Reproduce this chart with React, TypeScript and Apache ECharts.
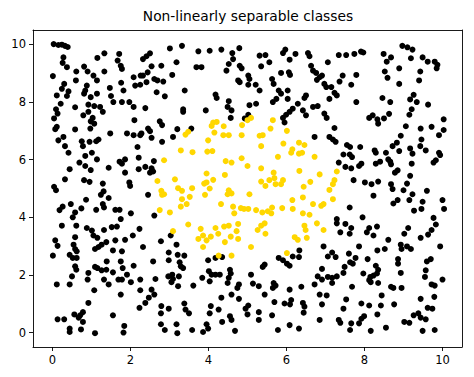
import React, { useEffect, useRef } from "react";
import * as echarts from "echarts";

const chartTitle = "Non-linearly separable classes";
const tickValues = [0, 2, 4, 6, 8, 10];

// Outer class (black), top band
const outerTop: number[][] = [
  [0.03,10.01],[0.15,9.98],[0.24,9.99],[0.32,9.95],[0.39,9.91],[0.28,9.55],[0.26,9.36],[0.37,9.21],[1.15,9.53],[1.33,9.69],[1.71,9.67],[1.67,9.44],[1.75,9.26],[1.78,9.15],[0.01,8.9],[0.61,9.06],[0.81,9.23],[0.9,9.06],[1.05,8.92],[1.33,9.06],[1.14,8.75],[0.6,8.75],[0.3,8.63],[2.08,8.86],[2.26,8.92],[2.12,8.57],[2.25,8.6],[0.88,8.57],[0.84,8.4],[0.81,8.29],[1.47,8.49],[1.76,8.67],[1.82,8.4],[0.24,8.46],[0.41,8.37],[0.11,8.23],[0.37,8.21],[0.98,8.17],[1.14,8.29],[1.5,8.21],[1.56,8.0],[1.78,8.0],[1.97,8.0],[2.08,7.83],[0.21,7.94],[0.58,7.82],[0.92,7.91],[1.07,7.86],[1.22,7.83],[1.29,7.66],[0.09,7.75],[0.13,7.6],[0.04,7.43],[0.79,7.54],[0.92,7.66],[1.03,7.45],[0.98,7.33],[1.07,7.25],[2.1,7.37],[0.11,7.14],[0.07,7.06],[0.58,7.05],[0.97,7.08],[1.48,6.91],[1.91,6.91],[2.08,6.85],[2.25,6.85],[0.28,6.79],
  [3.01,9.86],[3.32,9.95],[3.74,9.76],[4.03,9.78],[4.33,9.82],[4.79,9.87],[4.61,9.7],[2.5,9.69],[2.41,9.59],[2.32,9.49],[3.18,9.38],[2.79,9.26],[2.54,9.24],[4.63,9.49],[4.52,9.32],[4.8,9.26],[4.85,9.17],[4.46,9.09],[3.69,9.21],[3.82,9.21],[2.44,9.03],[3.07,8.94],[2.32,8.92],[2.61,8.8],[2.69,8.75],[2.84,8.71],[2.41,8.69],[4.76,8.75],[4.8,8.69],[5.02,8.92],[5.02,8.6],[2.67,8.34],[3.39,8.4],[2.88,8.2],[4.18,8.26],[4.21,8.14],[4.52,8.03],[4.49,7.83],[4.59,7.71],[4.57,7.45],[2.38,7.79],[3.35,7.75],[3.35,7.66],[3.93,7.71],[5.02,7.56],[4.93,7.43],[2.75,7.33],[2.81,7.2],[2.45,7.08],[2.5,6.99],[3.2,7.06],[3.56,7.08],[2.28,6.91],[3.09,6.79],
  [5.31,9.61],[5.46,9.63],[5.91,9.7],[5.97,9.82],[6.23,9.67],[6.55,9.7],[6.59,9.59],[6.08,9.47],[7.34,9.63],[7.53,9.63],[7.74,9.67],[5.56,9.38],[5.35,9.24],[7.06,9.38],[6.63,9.26],[5.05,8.8],[5.86,9.01],[6.06,9.03],[6.09,8.94],[6.68,9.09],[6.76,9.01],[6.85,8.86],[6.91,8.92],[6.78,8.77],[7.44,8.92],[7.36,8.71],[7.79,8.94],[7.66,8.6],[5.63,8.8],[5.67,8.63],[5.21,8.6],[5.31,8.4],[6.97,8.63],[7.02,8.52],[7.15,8.52],[7.23,8.32],[7.29,8.23],[7.1,8.11],[5.8,8.4],[5.86,8.29],[6.03,8.4],[6.03,8.11],[6.5,8.23],[6.46,8.14],[5.74,8.11],[5.65,8.0],[5.22,7.94],[5.05,7.89],[6.29,7.94],[6.16,7.77],[6.08,7.66],[5.99,7.56],[5.91,7.45],[6.42,7.71],[6.68,7.83],[6.8,7.86],[6.97,7.6],[7.03,7.45],[6.5,7.54],[7.79,8.0],[5.95,7.29],[7.23,7.1],[6.72,6.79],[7.1,6.79],
  [7.91,9.75],[7.97,9.72],[8.97,9.95],[9.1,9.9],[9.23,9.82],[8.49,9.67],[8.68,9.55],[8.57,9.4],[9.19,9.52],[9.49,9.55],[9.62,9.4],[9.8,9.4],[9.87,9.29],[9.85,9.17],[8.89,9.17],[8.52,9.06],[8.59,8.84],[9.43,9.06],[9.4,8.75],[8.89,8.63],[8.46,8.14],[8.66,8.0],[9.26,8.25],[9.17,8.09],[9.34,8.0],[9.63,7.91],[9.21,7.75],[9.15,7.56],[8.21,7.54],[8.12,7.45],[8.33,7.4],[8.35,7.25],[8.5,7.43],[8.63,7.59],[10.03,7.4],[9.06,7.16],[9.44,7.08],[9.72,7.14],[10.03,7.03],[9.91,6.85],[8.93,6.83]
];

// Outer class (black), middle band
const outerMiddle: number[][] = [
  [0.15,6.67],[0.75,6.64],[0.78,6.47],[0.95,6.62],[1.12,6.64],[1.18,6.7],[2.18,6.44],[0.32,6.47],[0.41,6.24],[0.84,6.13],[1.01,6.24],[1.14,6.01],[2.21,6.07],[0.69,5.9],[0.84,5.78],[0.98,5.64],[1.44,5.72],[1.72,5.93],[1.78,5.86],[1.86,6.01],[0.44,5.67],[1.86,5.55],[2.21,5.67],[0.32,5.32],[0.81,5.29],[0.95,5.23],[1.29,5.17],[1.97,5.21],[1.99,5.09],[0.04,5.06],[0.09,4.94],[1.31,4.9],[1.24,4.78],[1.44,4.67],[0.86,4.61],[0.47,4.46],[0.26,4.37],[0.18,4.25],[0.58,4.17],[0.52,4.0],[0.74,4.31],[1.12,4.26],[1.29,4.46],[1.32,4.34],[1.61,4.26],[1.72,4.26],[2.01,4.14],[1.75,3.94],[0.24,3.71],[0.61,3.71],[0.88,3.63],[1.01,3.54],[1.32,3.56],[1.52,3.66],[1.65,3.68],[1.05,3.37],[1.15,3.29],[0.58,3.31],[0.07,3.2],[1.38,3.14],[1.61,3.2],[1.86,3.22],[2.06,3.37],[2.23,3.6],
  [2.54,6.76],[2.81,6.62],[2.6,5.95],[2.38,5.75],[2.54,5.7],[2.58,5.59],[2.5,5.55],[2.45,4.78],[2.61,4.06],[3.03,3.37],[2.78,3.17],
  [7.19,6.7],[7.26,6.62],[7.55,6.51],[7.63,6.44],[7.46,6.18],[7.62,6.18],[7.68,6.09],[7.34,5.9],[7.51,5.75],[7.66,5.7],[7.72,5.29],[7.62,4.34],[7.29,3.94],[7.29,3.79],[7.51,3.77],[7.38,3.48],[7.66,3.63],[7.62,3.43],
  [7.89,6.44],[8.26,6.32],[8.29,6.24],[8.55,6.24],[8.72,6.47],[8.83,6.59],[8.89,6.3],[9.17,6.39],[9.23,6.21],[9.43,6.47],[9.46,6.7],[9.57,6.32],[9.91,6.24],[9.94,6.16],[7.92,5.86],[7.86,5.78],[8.29,5.86],[8.4,5.93],[8.61,6.01],[8.66,5.93],[8.68,5.84],[9.21,5.86],[9.83,5.98],[9.77,5.9],[8.78,5.55],[8.85,5.63],[9.17,5.44],[8.01,5.21],[8.18,5.15],[8.35,5.24],[8.68,5.15],[8.72,4.98],[9.09,5.17],[9.0,4.94],[9.6,4.92],[9.23,4.8],[8.23,4.75],[8.85,4.6],[8.74,4.48],[9.15,4.6],[9.49,4.54],[9.46,4.29],[9.27,4.23],[10.0,4.6],[10.04,4.29],[7.95,4.0],[8.12,3.63],[8.06,3.48],[8.32,3.68],[8.23,3.37],[8.61,3.22],[9.12,3.63],[9.02,3.43],[9.77,3.98],[9.83,3.75],[9.72,3.56],[9.63,3.4],[9.44,3.29]
];

// Outer class (black), bottom band
const outerBottom: number[][] = [
  [0.13,3.01],[0.54,3.05],[0.58,2.9],[0.62,2.82],[1.09,2.9],[1.18,2.97],[1.26,3.05],[1.55,2.85],[1.78,2.82],[0.01,2.67],[0.44,2.7],[0.52,2.59],[0.62,2.59],[1.39,2.47],[1.75,2.47],[0.58,2.3],[0.61,2.18],[1.09,2.28],[1.15,2.24],[1.26,2.16],[1.38,2.18],[1.55,2.09],[1.8,2.24],[2.08,2.32],[0.5,1.95],[0.92,2.07],[0.9,1.84],[1.32,1.84],[1.44,1.67],[1.69,1.84],[1.78,1.84],[1.91,2.01],[2.01,1.75],[2.25,1.84],[0.11,1.67],[0.44,1.67],[1.07,1.47],[1.75,1.32],[2.25,1.47],[0.92,1.03],[2.23,0.86],[0.13,0.46],[0.3,0.46],[0.56,0.63],[0.71,0.6],[0.78,0.71],[0.67,0.52],[0.78,0.37],[1.55,0.6],[1.84,0.23],[1.82,0.0],[0.44,0.14],[0.44,0.02],[0.73,0.11],[1.09,-0.02],
  [2.32,2.97],[3.18,3.05],[2.98,2.78],[3.21,2.7],[3.38,2.67],[2.58,2.47],[2.98,2.51],[3.26,2.44],[3.29,2.3],[3.35,2.24],[3.99,2.51],[4.18,2.59],[4.35,2.62],[2.64,1.86],[2.97,1.95],[3.07,2.01],[3.09,1.86],[3.05,1.75],[3.24,1.95],[3.22,1.61],[3.84,1.9],[4.01,2.13],[4.08,2.01],[4.18,2.01],[4.29,2.01],[4.55,2.18],[4.57,2.05],[4.52,1.9],[4.49,1.72],[4.03,1.78],[3.61,1.63],[2.54,1.49],[2.61,1.32],[2.47,1.21],[2.38,1.03],[4.78,1.67],[4.74,1.55],[4.33,1.21],[4.59,1.32],[4.78,1.17],[5.02,0.94],[4.95,0.83],[3.38,1.01],[3.41,0.8],[3.5,0.67],[2.79,0.92],[2.98,0.83],[2.78,0.67],[4.06,0.92],[4.03,0.67],[4.26,0.8],[4.55,0.57],[4.59,0.44],[4.35,0.37],[5.0,0.63],[3.95,0.29],[3.99,0.14],[3.86,0.02],[4.68,0.06],[2.78,0.29],[2.88,0.09],[3.18,0.29],[3.2,-0.02],[3.58,0.09],
  [6.33,2.85],[6.16,2.64],[6.32,2.62],[5.8,2.59],[5.91,2.51],[6.01,2.39],[6.08,2.32],[5.44,2.36],[5.39,2.28],[6.95,2.99],[7.17,2.78],[7.06,2.64],[7.26,2.62],[7.6,2.74],[7.77,2.59],[7.63,2.44],[7.49,2.28],[7.46,2.07],[7.7,2.39],[6.91,2.21],[5.09,2.01],[6.8,1.95],[6.91,1.84],[7.06,1.93],[7.17,1.9],[7.29,1.95],[7.17,1.72],[5.14,1.7],[5.29,1.61],[5.67,1.72],[5.72,1.63],[5.65,1.55],[6.38,1.59],[6.72,1.67],[6.08,1.49],[5.44,1.32],[6.85,1.32],[7.03,1.29],[7.68,1.59],[5.69,1.06],[5.95,1.01],[6.12,1.13],[6.09,0.98],[6.42,1.03],[6.46,0.9],[6.44,0.69],[6.91,0.98],[7.53,1.15],[7.46,0.83],[5.29,0.71],[5.63,0.6],[5.29,0.44],[6.85,0.44],[7.34,0.44],[7.38,0.34],[7.66,0.32],[7.63,0.09],[5.78,0.09],[6.08,0.26],[6.32,0.14],
  [7.86,2.99],[8.33,2.85],[8.52,2.9],[8.93,3.05],[8.95,2.9],[9.09,2.99],[9.19,2.9],[9.94,2.99],[8.08,2.55],[8.86,2.55],[8.86,2.39],[9.6,2.47],[9.7,2.55],[8.29,2.32],[8.35,2.18],[8.32,2.05],[7.97,2.05],[8.15,1.93],[8.23,1.98],[8.12,1.82],[8.16,1.75],[8.35,1.72],[8.93,2.07],[9.57,2.16],[9.55,1.93],[10.0,1.84],[8.68,1.59],[8.74,1.55],[8.95,1.55],[9.72,1.67],[9.8,1.63],[8.44,1.29],[9.79,1.24],[9.44,1.17],[7.92,1.01],[8.12,0.94],[8.42,0.94],[8.76,0.98],[9.62,0.86],[9.74,0.83],[8.33,0.63],[7.99,0.57],[7.92,0.48],[7.86,0.32],[9.26,0.6],[9.38,0.67],[9.44,0.52],[9.57,0.46],[9.02,0.37],[9.15,0.34],[8.16,0.06],[8.55,0.17],[9.49,0.06],[9.8,0.09]
];

// Inner class (gold)
const innerClass: number[][] = [
  [4.12,7.29],[4.21,7.31],[4.08,7.17],[4.39,7.16],[4.15,6.94],[4.38,6.85],[4.52,6.85],[4.86,7.2],[5.0,7.37],[4.85,6.85],[3.48,6.97],[3.41,6.87],
  [5.09,7.45],[5.65,7.37],[5.59,7.08],[5.39,6.85],[5.31,6.83],[6.01,7.0],
  [3.99,6.67],[3.29,6.32],[3.59,6.26],[3.97,6.28],[4.1,6.3],[2.86,5.98],[4.44,5.95],[4.59,5.9],[4.85,6.05],[5.0,5.78],[3.95,5.52],[4.42,5.47],[2.69,5.26],[3.14,5.32],[3.89,5.17],[3.95,5.21],[4.12,5.3],[4.03,5.0],[3.22,5.01],[3.32,4.92],[3.58,5.01],[2.79,4.92],[2.81,4.78],[2.86,4.8],[4.52,4.94],[4.59,4.83],[4.49,4.8],[3.91,4.78],[3.32,4.63],[3.52,4.71],[3.44,4.46],[3.29,4.37],[4.32,4.46],[4.63,4.37],[4.83,4.32],[4.91,4.29],[2.75,4.25],[3.01,4.17],[4.66,4.14],[5.02,4.29],[3.48,3.75],[3.8,3.6],[4.18,3.63],[4.4,3.68],[4.52,3.71],[4.76,3.77],[3.09,3.52],[3.86,3.37],[4.06,3.33],[4.25,3.43],[4.72,3.52],[4.57,3.33],[3.74,3.25],[3.95,3.2],[4.42,3.14],[4.76,3.25],
  [5.35,6.47],[5.92,6.56],[6.32,6.59],[6.46,6.51],[6.15,6.36],[6.12,6.24],[6.32,6.21],[6.4,6.24],[5.78,6.1],[6.72,6.1],[5.35,5.7],[6.33,5.61],[5.67,5.55],[7.29,5.59],[6.85,5.49],[7.23,5.29],[7.19,5.15],[5.35,5.24],[5.46,5.09],[5.56,5.29],[5.69,5.36],[5.72,5.15],[5.86,5.15],[5.91,5.29],[6.44,5.06],[6.61,5.23],[7.1,4.95],[5.05,4.8],[6.15,4.6],[6.42,4.69],[7.19,4.63],[6.68,4.46],[6.89,4.4],[6.95,4.46],[5.22,4.25],[5.38,4.17],[5.52,4.21],[5.63,4.34],[5.61,4.14],[5.89,4.32],[6.16,4.29],[6.42,4.14],[6.59,4.09],[6.78,3.79],[5.44,3.79],[5.35,3.71],[5.26,3.56],[5.46,3.43],[6.46,3.71],[6.49,3.56],[6.95,3.56],[6.21,3.31],[6.29,3.22],[6.52,3.29],
  [3.86,2.97],[4.26,2.67],[4.59,2.67],[5.09,2.97],[6.01,2.76]
];

export default function App() {
  const ref = useRef<HTMLDivElement>(null);
  useEffect(() => {
    if (!ref.current) return;
    const chart = echarts.init(ref.current, null, { renderer: "svg" });
    const font = "DejaVu Sans";
    const spine = { show: true, onZero: false, lineStyle: { color: "#000", width: 0.9 } };
    const tick = { show: true, length: 4, customValues: tickValues, lineStyle: { color: "#000", width: 0.9 } };
    const label = { customValues: tickValues, color: "#000", fontFamily: font, fontSize: 11.5, margin: 7 };
    const mainAxisX = {
      type: "value", min: -0.5, max: 10.5, position: "bottom",
      axisLine: spine, axisTick: tick, axisLabel: label, splitLine: { show: false },
    };
    const mainAxisY = {
      type: "value", min: -0.5, max: 10.5, position: "left",
      axisLine: spine, axisTick: tick, axisLabel: label, splitLine: { show: false },
    };
    const frame = (pos: string) => ({
      type: "value", min: -0.5, max: 10.5, position: pos,
      axisLine: spine, axisTick: { show: false }, axisLabel: { show: false }, splitLine: { show: false },
    });
    const dot = (data: number[][], color: string, name: string) => ({
      type: "scatter", name, data, symbolSize: 6, itemStyle: { color, opacity: 1 }, xAxisIndex: 0, yAxisIndex: 0,
    });
    chart.setOption({
      animation: false,
      backgroundColor: "#fff",
      graphic: [
        {
          type: "text", x: 248, y: 16,
          style: { text: chartTitle, fontFamily: font, fontSize: 13.8, fill: "#000", textAlign: "center", textVerticalAlign: "middle", verticalAlign: "middle" },
        },
      ],
      grid: { left: 33, right: 12, top: 30, bottom: 30 },
      xAxis: [mainAxisX, frame("top")],
      yAxis: [mainAxisY, frame("right")],
      series: [
        dot(outerTop, "#000000", "outerTop"),
        dot(outerMiddle, "#000000", "outerMiddle"),
        dot(outerBottom, "#000000", "outerBottom"),
        dot(innerClass, "#FFD700", "inner"),
      ],
    });
    return () => chart.dispose();
  }, []);
  return <div ref={ref} style={{ width: 474, height: 377, position: "absolute", left: 0, top: 0 }} />;
}
